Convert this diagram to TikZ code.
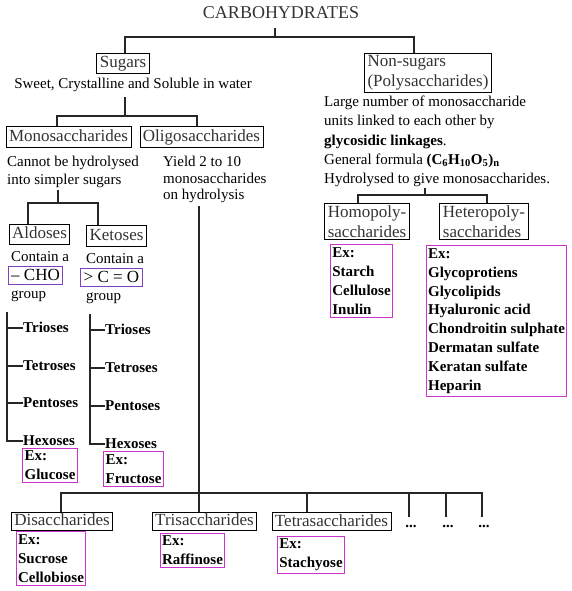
\documentclass[tikz,border=0pt]{standalone}
\usepackage{fontspec}
\setmainfont{Liberation Serif}
\usepackage{tikz}
\usetikzlibrary{positioning, calc}
\usepackage{xcolor}
\definecolor{inkgray}{HTML}{333333}
\definecolor{exmag}{HTML}{CC33CC}
\definecolor{grpviolet}{HTML}{7F3FBF}
\definecolor{linegray}{HTML}{262626}
\tikzset{
  catbase/.style={rectangle, draw=black, line width=0.9pt, text=inkgray,
                  font=\fontsize{17}{20.5}\selectfont, inner xsep=3pt,
                  align=left},
  catbox/.style={catbase, text height=12.5pt, text depth=4pt, inner ysep=2pt},
  catboxS/.style={catbase, text height=12pt, text depth=3pt, inner ysep=1.5pt},
  catboxL/.style={catbase, inner ysep=2pt},
  grpbox/.style={rectangle, draw=grpviolet, line width=1pt,
                 font=\fontsize{17}{20}\selectfont, inner xsep=3pt,
                 text height=12pt, text depth=2pt, inner ysep=2pt},
  exbox/.style={rectangle, draw=exmag, line width=1pt, align=left,
                font=\bfseries\fontsize{15}{18.8}\selectfont,
                inner xsep=2pt, inner ysep=3pt},
  note/.style={align=left, inner sep=0pt, font=\fontsize{15}{18.5}\selectfont},
  leaf/.style={anchor=west, inner sep=0pt, text height=10pt, text depth=1pt,
               font=\bfseries\fontsize{15}{18}\selectfont},
  dots/.style={anchor=base, inner sep=0pt, text height=10pt,
               font=\bfseries\fontsize{15}{18}\selectfont},
  link/.style={draw=linegray, line width=2.2pt},
}

\begin{document}
\begin{tikzpicture}[x=1pt, y=-1pt]
  \useasboundingbox (0,0) rectangle (572,591);

  % top level
  \node[font=\fontsize{18}{20}\selectfont, text=inkgray, inner xsep=0pt,
        inner ysep=9pt] (title) at (281,13) {CARBOHYDRATES};
  \node[catbox] (sugars) at (123,63.5) {Sugars};
  \node[catboxL] (nonsug) at (428,73) {Non-sugars\\(Polysaccharides)};
  \coordinate (tj) at (275,37);
  \draw[link] (title.south -| tj) -- (tj);
  \draw[link] ([xshift=2pt]sugars.north) |- (tj) -| ([xshift=-14pt]nonsug.north);

  % sugars
  \node[note, inner ysep=5pt] (sweet) at (133,85) {Sweet, Crystalline and Soluble in water};
  \node[catbox] (mono) at (68.5,137) {Monosaccharides};
  \node[catbox] (oligo) at (201.5,137) {Oligosaccharides};
  \coordinate (sj) at (125,116);
  \draw[link] (sweet.south -| sj) -- (sj);
  \draw[link] ([xshift=-11.5pt]mono.north) |- (sj) -| ([xshift=-4.5pt]oligo.north);

  \node[note, anchor=west, inner ysep=2pt, font=\fontsize{15}{18}\selectfont]
    (monotxt) at (7,172) {Cannot be hydrolysed\\into simpler sugars};
  \node[note, anchor=west, inner ysep=3pt, font=\fontsize{15}{16.5}\selectfont]
    (oligotxt) at (163,179.5) {Yield 2 to 10\\monosaccharides\\on hydrolysis};

  % aldoses and ketoses
  \node[catbox] (ald) at (39.5,234.5) {Aldoses};
  \node[catbox] (ket) at (116.5,236) {Ketoses};
  \coordinate (mj) at (58,203);
  \draw[link] (monotxt.south -| mj) -- (mj);
  \draw[link] ([xshift=-11.5pt]ald.north) |- (mj) -| ([xshift=-18.5pt]ket.north);

  \node[note, anchor=west] (aldc) at (11,257) {Contain a};
  \node[grpbox] (cho) at (35.5,275) {\textendash{} CHO};
  \node[note, anchor=west] (aldg) at (11,296) {group};
  \node[note, anchor=west] (ketc) at (86,259) {Contain a};
  \node[grpbox] (cdo) at (111.5,277.5) {> C = O};
  \node[note, anchor=west] (ketg) at (86,298) {group};

  \node[leaf] (atri) at (23,328) {Trioses};
  \node[leaf] (atet) at (23,366) {Tetroses};
  \node[leaf] (apen) at (23,403) {Pentoses};
  \node[leaf] (ahex) at (23,441) {Hexoses};
  \coordinate (atop) at (7,312);
  \draw[link] (atop) |- (ahex.west);
  \foreach \n in {atri, atet, apen}
    \draw[link] (\n.west -| atop) -- (\n.west);

  \node[leaf] (ktri) at (105,330) {Trioses};
  \node[leaf] (ktet) at (105,368) {Tetroses};
  \node[leaf] (kpen) at (105,406) {Pentoses};
  \node[leaf] (khex) at (105,444) {Hexoses};
  \coordinate (ktop) at (90,314);
  \draw[link] (ktop) |- (khex.west);
  \foreach \n in {ktri, ktet, kpen}
    \draw[link] (\n.west -| ktop) -- (\n.west);

  \node[exbox] (glucose) at (50,465.5) {Ex:\\Glucose};
  \node[exbox] (fructose) at (133.5,469) {Ex:\\Fructose};

  % oligosaccharides
  \node[catboxS] (di) at (62,521) {Disaccharides};
  \node[catboxS] (tri) at (204.5,521) {Trisaccharides};
  \node[catboxS] (tetra) at (331.5,521.5) {Tetrasaccharides};
  \node[dots] (dot1) at (411,527) {...};
  \node[dots] (dot2) at (448,527) {...};
  \node[dots] (dot3) at (484,527) {...};
  \coordinate (bj) at (199,493);
  \draw[link] (oligotxt.south -| bj) -- (bj) -- ([xshift=-5.5pt]tri.north);
  \draw[link] ([xshift=-1pt]di.north) |- (bj) -| ([xshift=-2pt]dot3.north);
  \foreach \n/\s in {tetra/-24.5, dot1/-2, dot2/-2}
    \draw[link] ([xshift=\s pt]\n.north) -- ([xshift=\s pt]\n.north |- bj);

  \node[exbox] (sucrose) at (51,558.5) {Ex:\\Sucrose\\Cellobiose};
  \node[exbox] (raffinose) at (192.5,550.5) {Ex:\\Raffinose};
  \node[exbox] (stachyose) at (311,555) {Ex:\\Stachyose};

  % non-sugars
  \node[note, anchor=west, inner ysep=1pt, font=\fontsize{15}{19.25}\selectfont]
    (nontxt) at (324,141.5) {Large number of monosaccharide\\units linked to each other by\\
    \textbf{glycosidic linkages}.\\General formula
    \textbf{(C\textsubscript{6}H\textsubscript{10}O\textsubscript{5})\textsubscript{n}}\\
    Hydrolysed to give monosaccharides.};
  \node[catboxL] (homo) at (367,221.5) {Homopoly-\\saccharides};
  \node[catboxL] (hetero) at (484,221.5) {Heteropoly-\\saccharides};
  \coordinate (nj) at (425,195);
  \draw[link] (nontxt.south -| nj) -- (nj);
  \draw[link] ([xshift=-9pt]homo.north) |- (nj) -| ([xshift=3pt]hetero.north);

  \node[exbox] (homoex) at (361.5,281) {Ex:\\Starch\\Cellulose\\Inulin};
  \node[exbox] (heteroex) at (496.5,321) {Ex:\\Glycoprotiens\\Glycolipids\\Hyaluronic acid\\
    Chondroitin sulphate\\Dermatan sulfate\\Keratan sulfate\\Heparin};

\end{tikzpicture}
\end{document}
